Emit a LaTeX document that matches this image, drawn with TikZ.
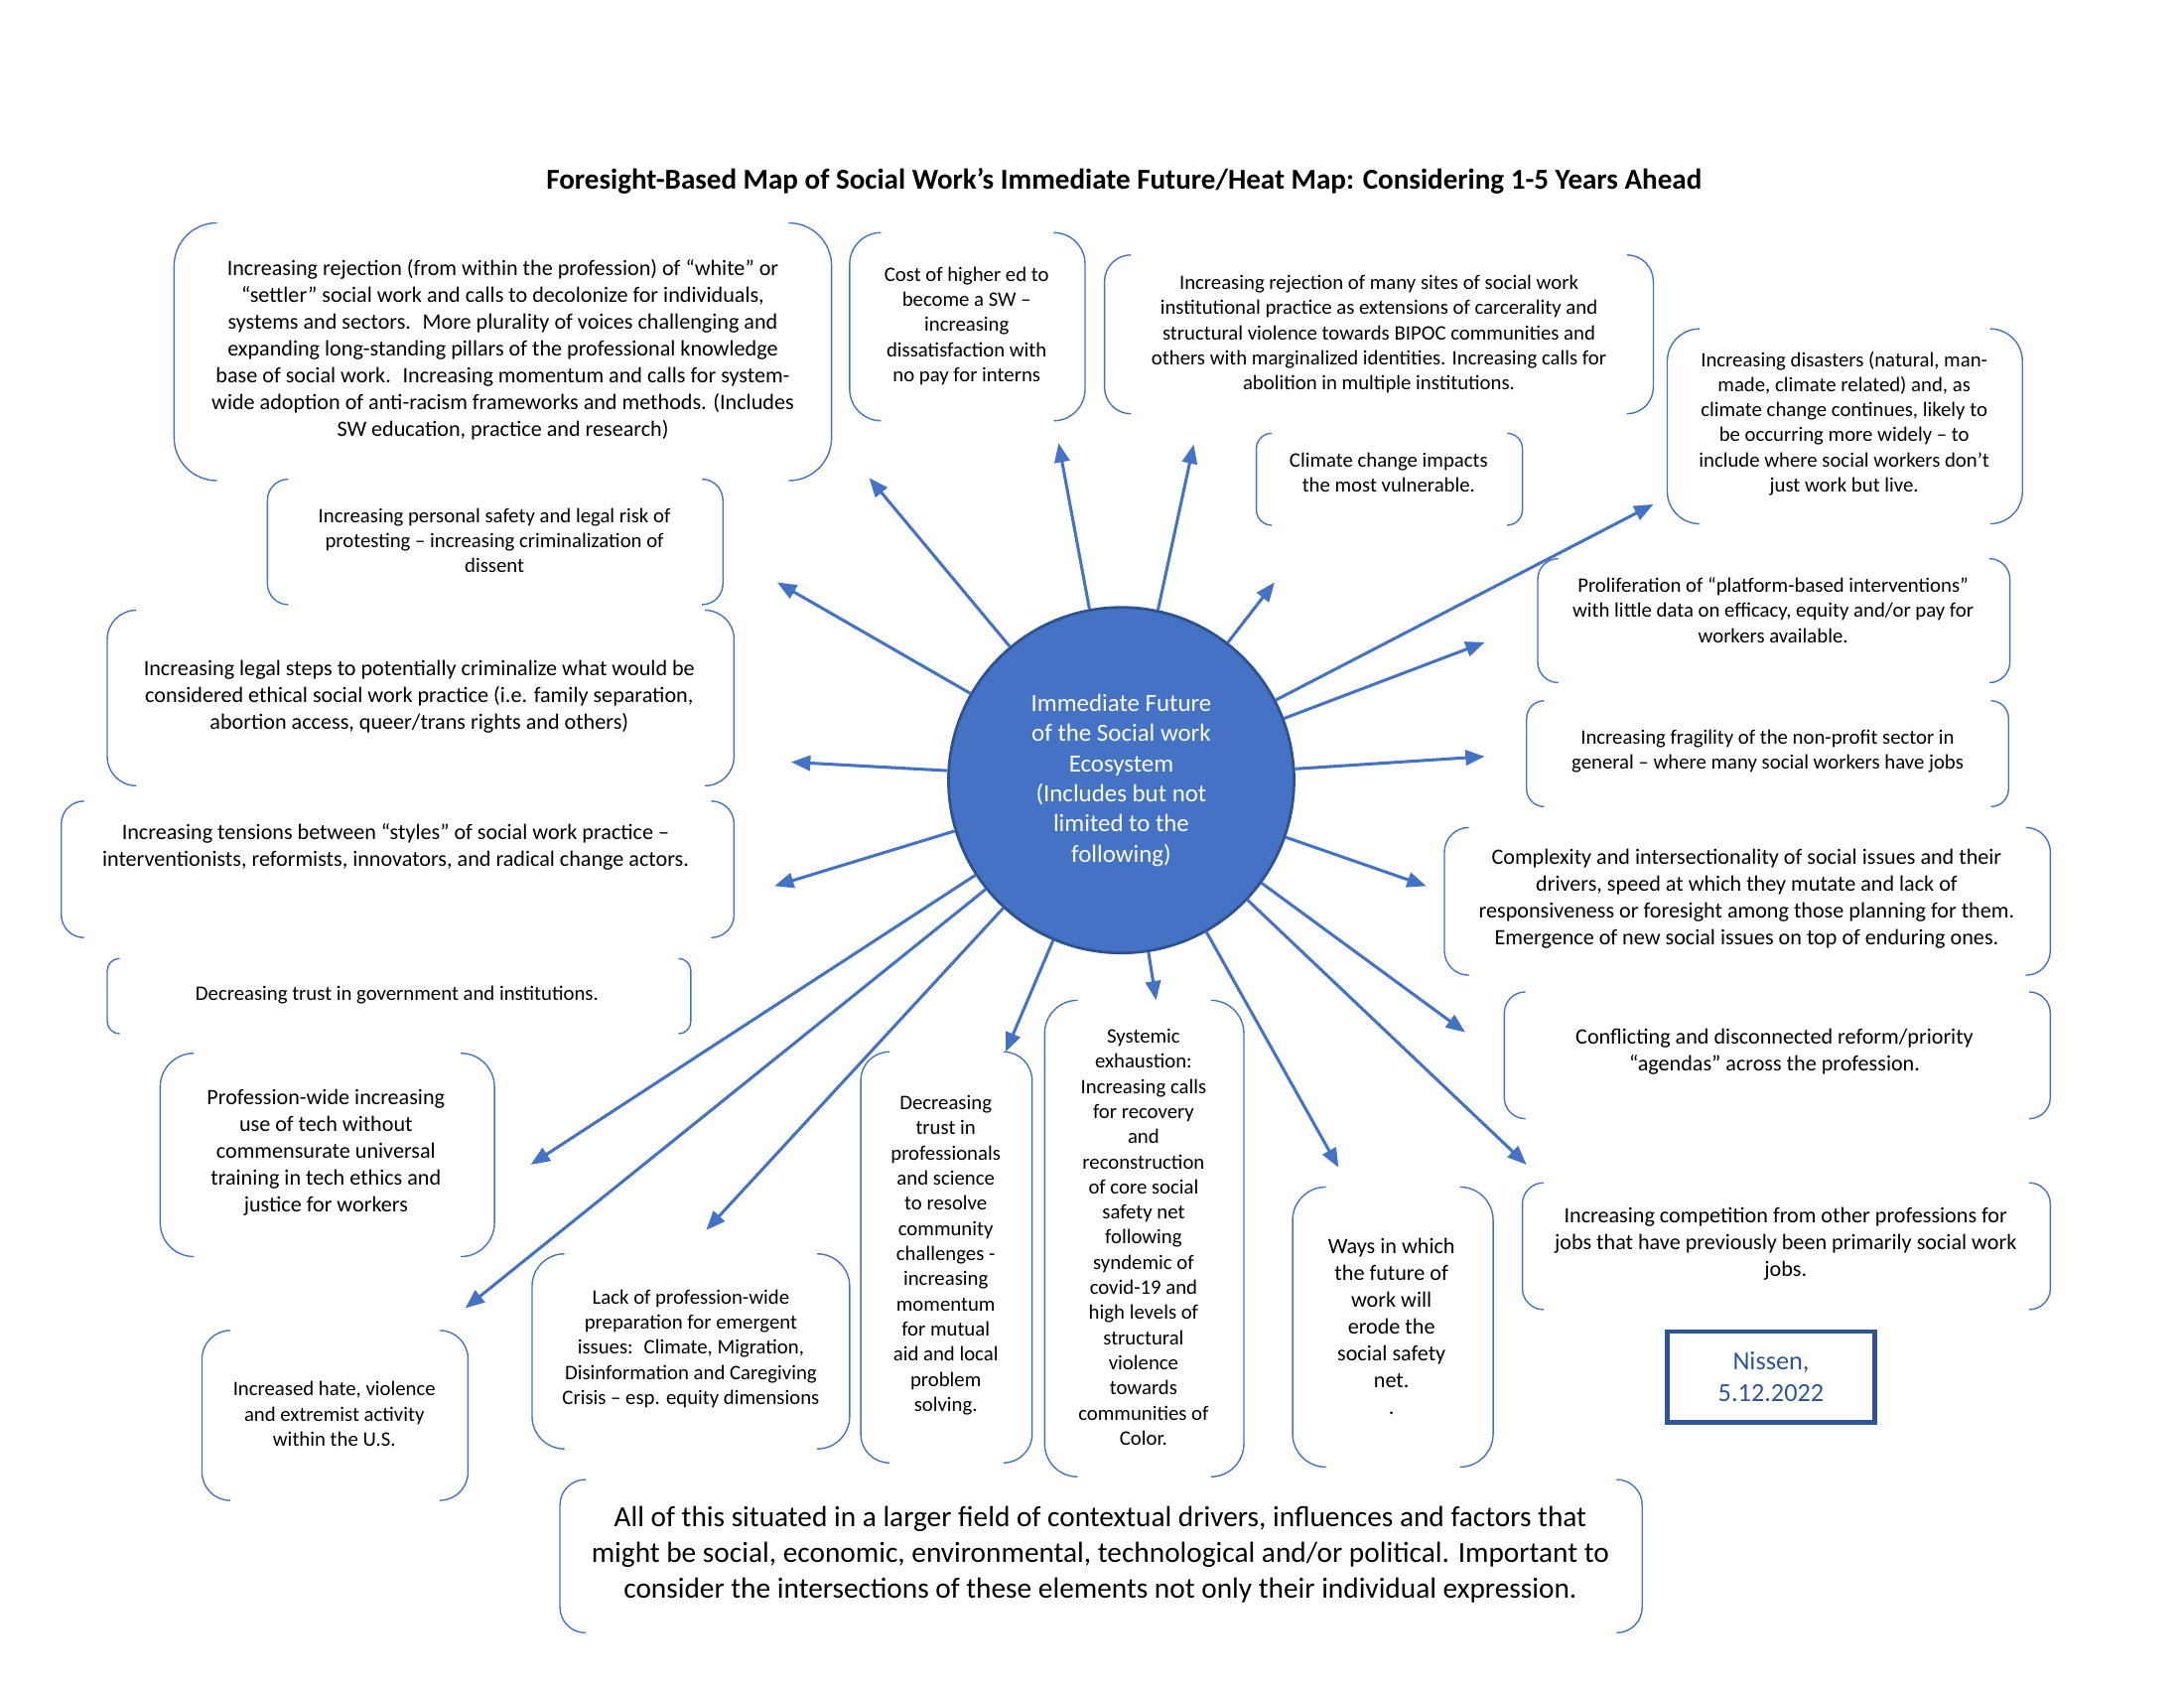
\documentclass[tikz,border=0pt]{standalone}
\usepackage{fontspec}
\setmainfont{Carlito}
\usepackage{tikz}
\usetikzlibrary{arrows.meta}
\definecolor{hubblue}{HTML}{4472C4}
\definecolor{hubedge}{HTML}{2F528F}
\definecolor{datebox}{HTML}{2F5597}
% bracket pair: x1, y1, x2, y2, corner radius
\newcommand{\bpair}[5]{%
\draw[brk, rounded corners=#5] ([xshift=#5]#1,#2) -- (#1,#2) -- (#1,#4) -- ([xshift=#5]#1,#4)
  ([xshift=-#5]#3,#2) -- (#3,#2) -- (#3,#4) -- ([xshift=-#5]#3,#4);}

\begin{document}
\begin{tikzpicture}[x=0.17819mm, y=-0.17819mm,
  brk/.style={draw=hubblue, line width=0.5pt},
  txt/.style={align=center, inner sep=0pt, font=\fontsize{8}{9.76}\selectfont},
  txts/.style={txt, font=\fontsize{7.5}{9.15}\selectfont},
  hub/.style={circle, fill=hubblue, draw=hubedge, line width=1pt, minimum size=44.2mm,
    inner sep=0pt, text=white, align=center, font=\fontsize{9}{11}\selectfont},
  arr/.style={draw=hubblue, line width=1.1pt, -{Triangle[length=7pt,width=5.5pt]}}]
\useasboundingbox (0,0) rectangle (1568,1212);

\node[font=\bfseries\fontsize{10.5}{13}\selectfont, inner sep=0pt] (title) at (807,130)
  {Foresight-Based Map of Social Work’s Immediate Future/Heat Map: Considering 1-5 Years Ahead};

\node[hub] (hub) at (805,560) {Immediate Future\\of the Social work\\Ecosystem\\(Includes but not\\limited to the\\following)};

% boxes round the hub
\bpair{125}{160}{597}{345}{15.6pt}
\node[txt] (decol) at (361,251) {Increasing rejection (from within the profession) of “white” or\\
  “settler” social work and calls to decolonize for individuals,\\
  systems and sectors.~ More plurality of voices challenging and\\
  expanding long-standing pillars of the professional knowledge\\
  base of social work.~ Increasing momentum and calls for system-\\
  wide adoption of anti-racism frameworks and methods. (Includes\\
  SW education, practice and research)};

\bpair{610}{167}{779}{302}{11.4pt}
\node[txts] (cost) at (694,234) {Cost of higher ed to\\become a SW –\\increasing\\dissatisfaction with\\no pay for interns};

\bpair{793}{183}{1187}{297}{9.6pt}
\node[txts] (abol) at (990,240) {Increasing rejection of many sites of social work\\
  institutional practice as extensions of carcerality and\\
  structural violence towards BIPOC communities and\\
  others with marginalized identities. Increasing calls for\\
  abolition in multiple institutions.};

\bpair{1197}{236}{1452}{376}{11.8pt}
\node[txts] (disas) at (1324,304) {Increasing disasters (natural, man-\\made, climate related) and, as\\
  climate change continues, likely to\\be occurring more widely – to\\
  include where social workers don’t\\just work but live.};

\bpair{902}{311}{1093}{377}{5.6pt}
\node[txts] (clim) at (997,339) {Climate change impacts\\the most vulnerable.};

\bpair{192}{344}{519}{434}{7.6pt}
\node[txts] (prot) at (355,388) {Increasing personal safety and legal risk of\\protesting – increasing criminalization of\\dissent};

\bpair{1104}{401}{1443}{490}{7.5pt}
\node[txts] (platf) at (1273,438) {Proliferation of “platform-based interventions”\\
  with little data on efficacy, equity and/or pay for\\workers available.};

\bpair{77}{438}{527}{564}{10.6pt}
\node[txt] (legal) at (301,500) {Increasing legal steps to potentially criminalize what would be\\
  considered ethical social work practice (i.e. family separation,\\
  abortion access, queer/trans rights and others)};

\bpair{1096}{503}{1442}{579}{6.4pt}
\node[txts] (nonpr) at (1269,539) {Increasing fragility of the non-profit sector in\\general – where many social workers have jobs};

\bpair{44}{575}{527}{673}{8.3pt}
\node[txt] (styles) at (284,608) {Increasing tensions between “styles” of social work practice –\\
  interventionists, reformists, innovators, and radical change actors.};

\bpair{1037}{594}{1472}{700}{8.9pt}
\node[txt] (compl) at (1254,645) {Complexity and intersectionality of social issues and their\\
  drivers, speed at which they mutate and lack of\\
  responsiveness or foresight among those planning for them.\\
  Emergence of new social issues on top of enduring ones.};

\bpair{77}{688}{496}{742}{4.5pt}
\node[txts] (govt) at (285,714) {Decreasing trust in government and institutions.};

\bpair{1080}{712}{1472}{803}{7.7pt}
\node[txt] (agend) at (1274,755) {Conflicting and disconnected reform/priority\\“agendas” across the profession.};

\bpair{115}{756}{355}{902}{12.3pt}
\node[txt] (tech) at (234,827) {Profession-wide increasing\\use of tech without\\commensurate universal\\
  training in tech ethics and\\justice for workers};

\bpair{618}{755}{741}{1050}{10.4pt}
\node[txts] (trust) at (679,901) {Decreasing\\trust in\\professionals\\and science\\to resolve\\community\\
  challenges -\\increasing\\momentum\\for mutual\\aid and local\\problem\\solving.};

\bpair{750}{718}{893}{1060}{12pt}
\node[txts] (exha) at (821,888) {Systemic\\exhaustion:\\Increasing calls\\for recovery\\and\\reconstruction\\
  of core social\\safety net\\following\\syndemic of\\covid-19 and\\high levels of\\structural\\
  violence\\towards\\communities of\\Color.};

\bpair{928}{852}{1072}{1053}{12.1pt}
\node[txt] (work) at (999,952) {Ways in which\\the future of\\work will\\erode the\\social safety\\net.\\.};

\bpair{1093}{849}{1472}{940}{7.7pt}
\node[txt] (compet) at (1282,893) {Increasing competition from other professions for\\
  jobs that have previously been primarily social work\\jobs.};

\node[draw=datebox, line width=1.5pt, text=datebox, minimum width=26.55mm, minimum height=11.58mm,
  align=center, inner sep=0pt, font=\fontsize{9.5}{11.6}\selectfont] (sign) at (1271.5,988.5) {Nissen,\\5.12.2022};

\bpair{145}{955}{336}{1077}{10.3pt}
\node[txts] (hate) at (240,1015) {Increased hate, violence\\and extremist activity\\within the U.S.};

\bpair{382}{900}{610}{1040}{11.8pt}
\node[txts] (prep) at (496,968) {Lack of profession-wide\\preparation for emergent\\issues:~ Climate, Migration,\\
  Disinformation and Caregiving\\Crisis – esp. equity dimensions};

\bpair{402}{1062}{1179}{1172}{9.3pt}
\node[txt, font=\fontsize{10.6}{12.9}\selectfont] (field) at (790,1116) {All of this situated in a larger field of contextual drivers, influences and factors that\\
  might be social, economic, environmental, technological and/or political. Important to\\
  consider the intersections of these elements not only their individual expression.};

% arrow tips
\coordinate (a1) at (624,343);
\coordinate (a2) at (760,318);
\coordinate (a3) at (857,319);
\coordinate (a4) at (915,418);
\coordinate (a5) at (1187,362);
\coordinate (a6) at (1066,461);
\coordinate (a7) at (1066,543);
\coordinate (a8) at (1024,636);
\coordinate (a9) at (1052,741);
\coordinate (a10) at (1096,836);
\coordinate (a11) at (961,838);
\coordinate (a12) at (830,718);
\coordinate (a13) at (722,755);
\coordinate (a14) at (507,883);
\coordinate (a15) at (334,939);
\coordinate (a16) at (381,836);
\coordinate (a17) at (556,636);
\coordinate (a18) at (568,547);
\coordinate (a19) at (558,418);
\foreach \t in {a1,a2,a3,a4,a5,a6,a7,a8,a9,a10,a11,a12,a13,a14,a15,a16,a17,a18,a19}
  \draw[arr] (hub) -- (\t);
\end{tikzpicture}
\end{document}
